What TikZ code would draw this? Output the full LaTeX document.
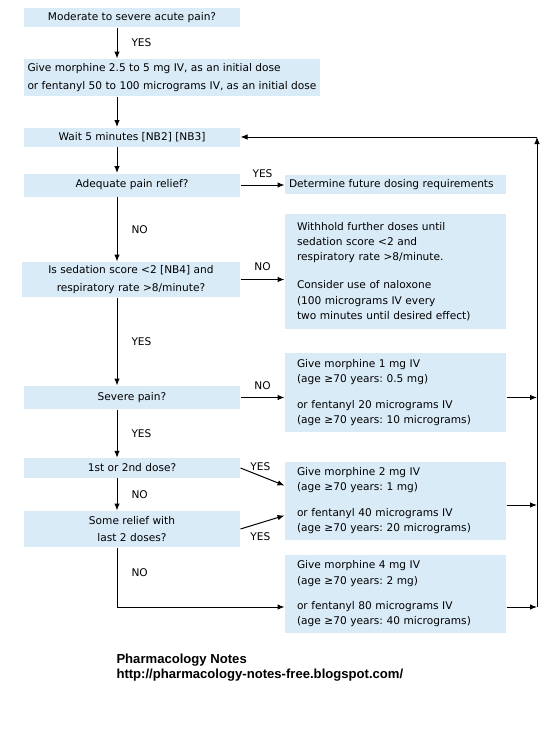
\documentclass[tikz,border=0pt]{standalone}
\usepackage{fontspec}
\setmainfont{DejaVu Sans}
\newfontfamily\footfont{Liberation Sans}
\usetikzlibrary{shapes,arrows.meta}
\definecolor{boxblue}{RGB}{218,235,248}
\frenchspacing

\begin{document}
\begin{tikzpicture}[x=1pt, y=-1pt, >={Latex[length=7pt,width=5.5pt]}, line width=1pt,
    box/.style={fill=boxblue, inner sep=0pt, font=\fontsize{10.6}{17.3}\selectfont},
    qbox/.style={box, minimum width=216pt, align=center},
    dosebox/.style={box, text width=197pt, inner xsep=12pt, align=left, font=\fontsize{10.6}{15.3}\selectfont},
    lbl/.style={inner sep=0pt, font=\fontsize{10.6}{12}\selectfont}]
    \useasboundingbox (0,0) rectangle (559,732);
    % left column
    \node[qbox, minimum height=19pt] (pain) at (132,17.5) {Moderate to severe acute pain?};
    \node[box, minimum width=296pt, minimum height=37pt, align=left] (give) at (172,77.5) {Give morphine 2.5 to 5 mg IV, as an initial dose\\or fentanyl 50 to 100 micrograms IV, as an initial dose};
    \node[qbox, minimum height=19pt] (wait) at (132,137) {Wait 5 minutes [NB2] [NB3]};
    \node[qbox, minimum height=23pt] (adequate) at (132,185) {Adequate pain relief?};
    \node[qbox, minimum width=218pt, minimum height=35pt] (sedation) at (131,279.5) {Is sedation score <2 [NB4] and\\respiratory rate >8/minute?};
    \node[qbox, minimum height=23pt] (severe) at (132,397.5) {Severe pain?};
    \node[qbox, minimum height=19.5pt] (dose) at (132,468) {1st or 2nd dose?};
    \node[qbox, minimum height=36pt] (some) at (132,529) {Some relief with\\last 2 doses?};
    % right column
    \node[box, text width=213pt, inner xsep=4pt, minimum height=19pt, align=left] (future) at (395.5,184.5) {Determine future dosing requirements};
    \node[dosebox, minimum height=115pt] (withhold) at (395.5,271.5) {Withhold further doses until\\sedation score <2 and\\respiratory rate >8/minute.\\[13pt]Consider use of naloxone\\(100 micrograms IV every\\two minutes until desired effect)};
    \node[dosebox, minimum height=79pt] (morphA) at (395.5,392.5) {Give morphine 1 mg IV\\(age ≥70 years: 0.5 mg)\\[10pt]or fentanyl 20 micrograms IV\\(age ≥70 years: 10 micrograms)};
    \node[dosebox, minimum height=78pt] (morphB) at (395.5,500.5) {Give morphine 2 mg IV\\(age ≥70 years: 1 mg)\\[10pt]or fentanyl 40 micrograms IV\\(age ≥70 years: 20 micrograms)};
    \node[dosebox, minimum height=78pt] (morphC) at (395.5,594) {Give morphine 4 mg IV\\(age ≥70 years: 2 mg)\\[10pt]or fentanyl 80 micrograms IV\\(age ≥70 years: 40 micrograms)};
    % footer
    \node[anchor=base west, inner sep=0pt, font=\footfont\bfseries\fontsize{13.1}{15}\selectfont] (blog) at (116,663) {Pharmacology Notes};
    \node[anchor=base west, inner sep=0pt, font=\footfont\bfseries\fontsize{13.1}{15}\selectfont] (url) at (116,678) {http://pharmacology-notes-free.blogspot.com/};
    % connector points
    \coordinate (spine) at (117,0);
    \coordinate (turn) at (117,607);
    \coordinate (outA) at (537,397.5);
    \coordinate (outB) at (537,505);
    \coordinate (outC) at (537,607);
    \coordinate (back) at (537,137);
    % connectors
    \draw[->] (pain.south -| spine) -- node[lbl, right=14pt] (yes1) {YES} (give.north -| spine);
    \draw[->] (give.south -| spine) -- (wait.north -| spine);
    \draw[->] (wait.south -| spine) -- (adequate.north -| spine);
    \draw[->] (adequate.east) -- node[lbl, above=7pt] (yes2) {YES} (adequate.east -| future.west);
    \draw[->] (adequate.south -| spine) -- node[lbl, right=14pt] (no1) {NO} (sedation.north -| spine);
    \draw[->] (sedation.east) -- node[lbl, above=8pt] (no2) {NO} (sedation.east -| withhold.west);
    \draw[->] (sedation.south -| spine) -- node[lbl, right=14pt] (yes3) {YES} (severe.north -| spine);
    \draw[->] (severe.east) -- node[lbl, above=7.5pt] (no3) {NO} (severe.east -| morphA.west);
    \draw[->] (severe.south -| spine) -- node[lbl, right=14pt] (yes4) {YES} (dose.north -| spine);
    \draw[->] (dose.east) -- node[lbl, above=5pt, pos=0.45] (yes5) {YES} ([yshift=15pt]morphB.west);
    \draw[->] (dose.south -| spine) -- node[lbl, right=14pt] (no4) {NO} (some.north -| spine);
    \draw[->] (some.east) -- node[lbl, below=9pt, pos=0.45] (yes6) {YES} ([yshift=-15pt]morphB.west);
    \draw[->] (some.south -| spine) -- node[lbl, right=14pt, pos=0.43] (no5) {NO} (turn) -- (turn -| morphC.west);
    \draw[->] (outA -| morphA.east) -- (outA);
    \draw[->] (outB -| morphB.east) -- (outB);
    \draw[->] (outC -| morphC.east) -- (outC);
    \draw[->] (outC) -- (back);
    \draw[->] (back) -- (wait.east);
\end{tikzpicture}
\end{document}
